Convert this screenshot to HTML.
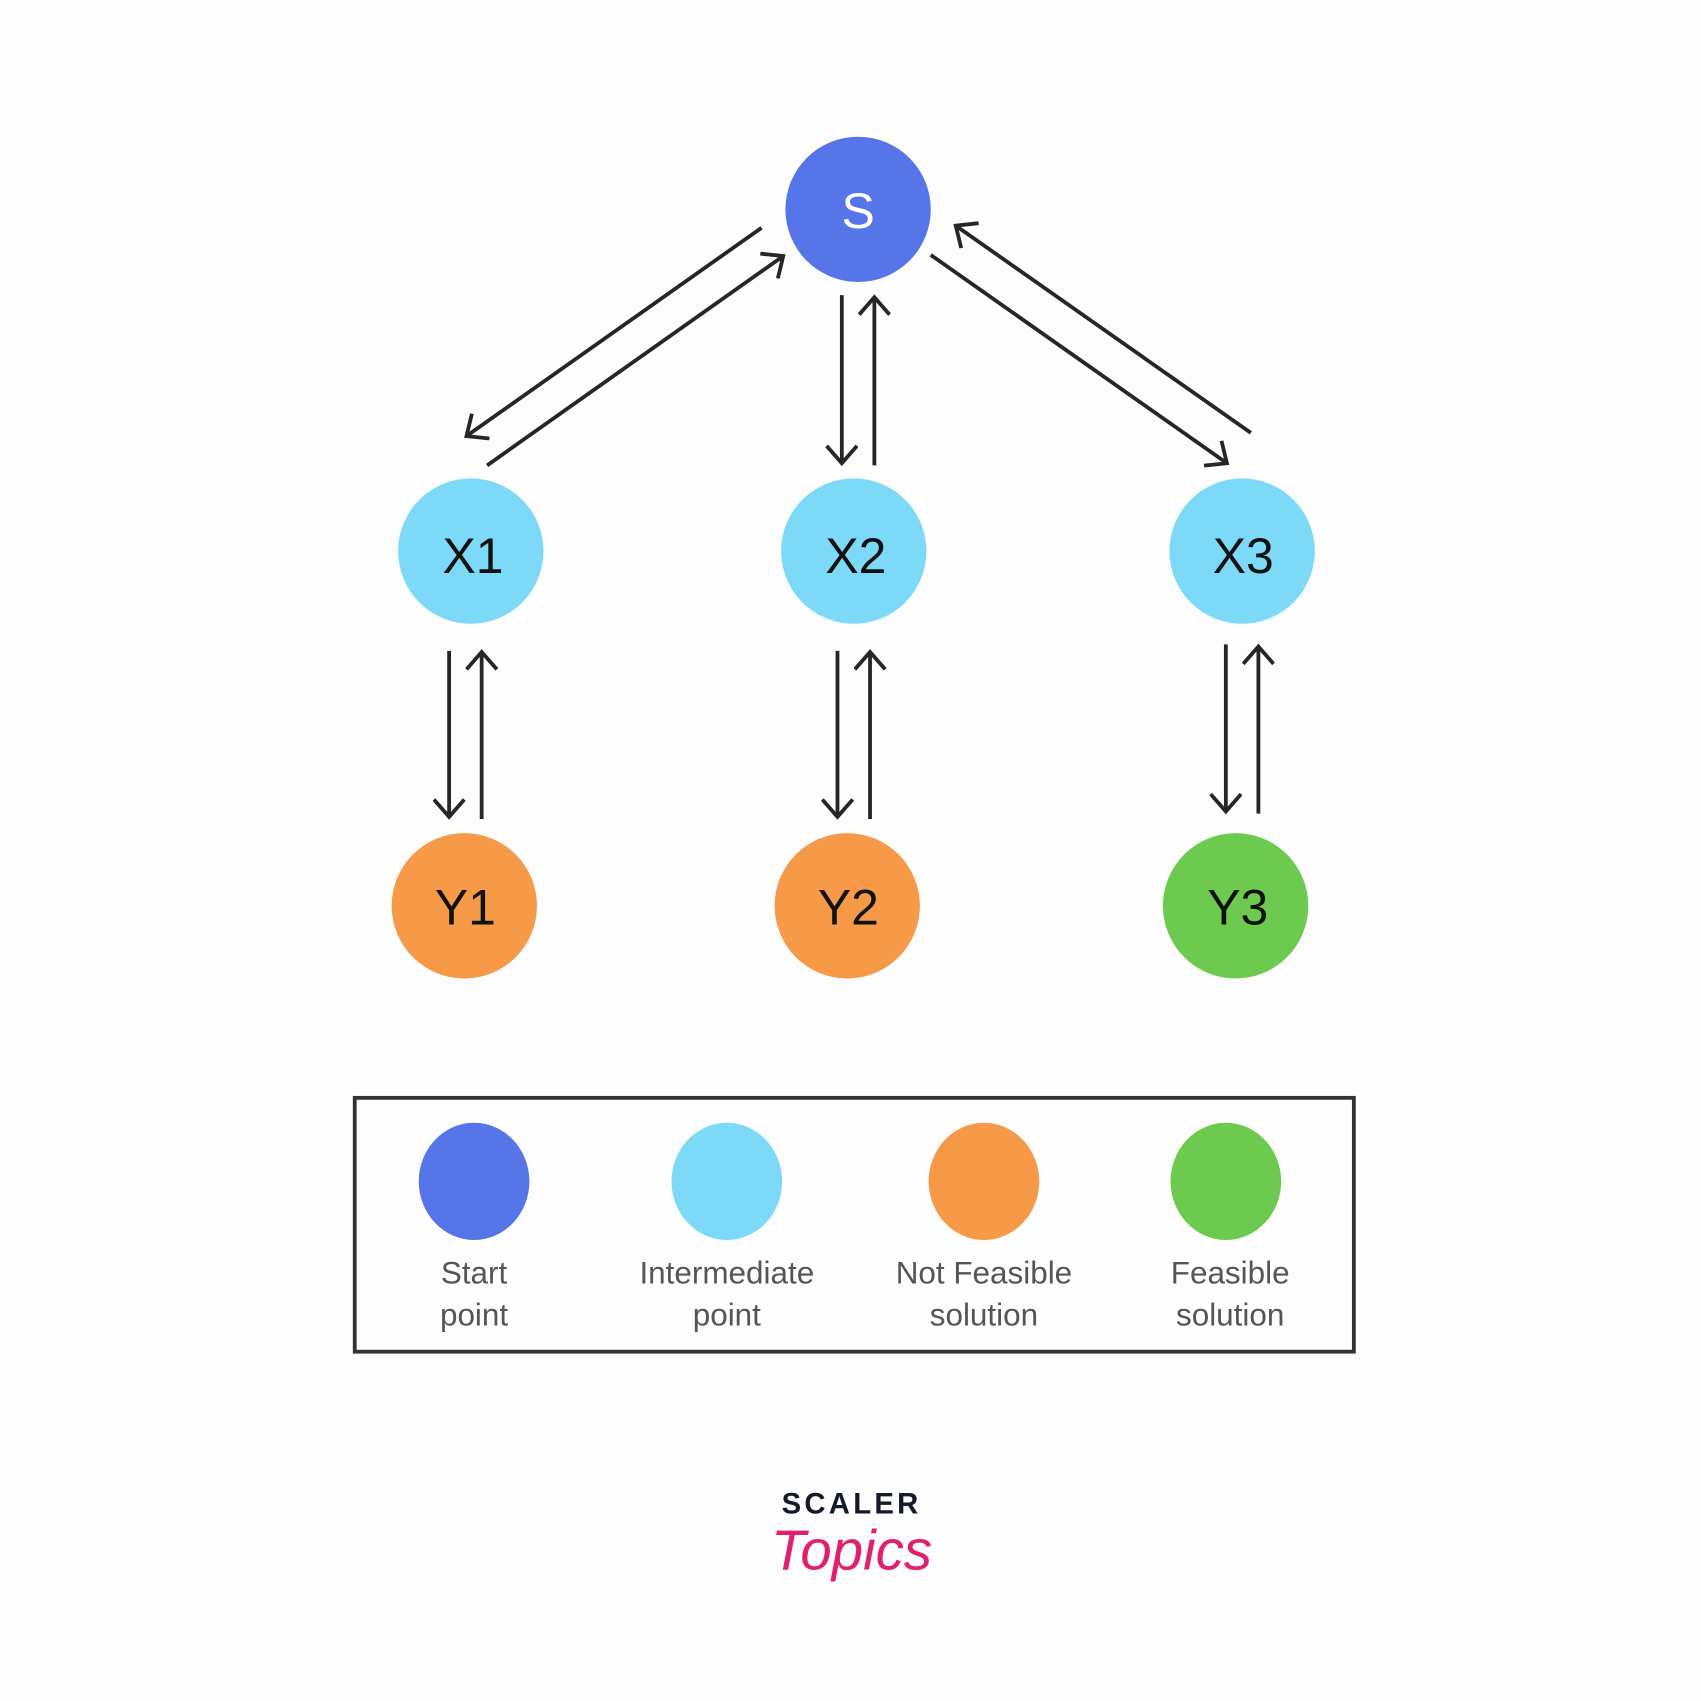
<!DOCTYPE html>
<html><head><meta charset="utf-8"><style>
html,body{margin:0;padding:0;background:#fdfdfd;}
svg{display:block;}
text{font-family:"Liberation Sans",sans-serif;}
</style></head><body>
<svg width="1701" height="1701" viewBox="0 0 1568 1568" xmlns="http://www.w3.org/2000/svg">
<rect width="1568" height="1568" fill="#fdfdfd"/>
<defs>
<marker id="a" viewBox="0 0 24 30" refX="20" refY="15" markerWidth="24" markerHeight="30" markerUnits="userSpaceOnUse" orient="auto">
<path d="M4 1 L20 15 L4 29" fill="none" stroke="#262626" stroke-width="3.5"/>
</marker>
</defs>
<g stroke="#262626" stroke-width="3.5" fill="none" marker-end="url(#a)">
<line x1="702" y1="210" x2="430" y2="402"/>
<line x1="449" y1="429" x2="722" y2="236"/>
<line x1="776" y1="272" x2="776" y2="427"/>
<line x1="806" y1="429" x2="806" y2="274"/>
<line x1="858" y1="235" x2="1131" y2="427"/>
<line x1="1153" y1="399" x2="881" y2="208"/>
<line x1="414" y1="600" x2="414" y2="753"/>
<line x1="444" y1="755" x2="444" y2="601"/>
<line x1="772" y1="600" x2="772" y2="753"/>
<line x1="802" y1="755" x2="802" y2="601"/>
<line x1="1130" y1="594" x2="1130" y2="748"/>
<line x1="1160" y1="750" x2="1160" y2="596"/>
</g>
<circle cx="791" cy="193" r="67" fill="#5675E8"/>
<circle cx="434" cy="508" r="67" fill="#7DD9F8"/>
<circle cx="787" cy="508" r="67" fill="#7DD9F8"/>
<circle cx="1145" cy="508" r="67" fill="#7DD9F8"/>
<circle cx="428" cy="835" r="67" fill="#F69A48"/>
<circle cx="781" cy="835" r="67" fill="#F69A48"/>
<circle cx="1139" cy="835" r="67" fill="#6CCB4E"/>
<g font-size="46" text-anchor="middle" fill="#111">
<text x="791" y="210" fill="#fff">S</text>
<text x="436" y="528">X1</text>
<text x="789" y="528">X2</text>
<text x="1146" y="528">X3</text>
<text x="429" y="852">Y1</text>
<text x="782" y="852">Y2</text>
<text x="1141" y="852">Y3</text>
</g>
<rect x="327" y="1012" width="921" height="234" fill="none" stroke="#333" stroke-width="3.5"/>
<ellipse cx="437" cy="1089" rx="51" ry="54" fill="#5675E8"/>
<ellipse cx="670" cy="1089" rx="51" ry="54" fill="#7DD9F8"/>
<ellipse cx="907" cy="1089" rx="51" ry="54" fill="#F69A48"/>
<ellipse cx="1130" cy="1089" rx="51" ry="54" fill="#6CCB4E"/>
<g font-size="29" text-anchor="middle" fill="#555">
<text x="437" y="1183">Start</text><text x="437" y="1222">point</text>
<text x="670" y="1183">Intermediate</text><text x="670" y="1222">point</text>
<text x="907" y="1183">Not Feasible</text><text x="907" y="1222">solution</text>
<text x="1134" y="1183">Feasible</text><text x="1134" y="1222">solution</text>
</g>
<text x="785" y="1395" font-size="27" font-weight="bold" text-anchor="middle" fill="#14192b" letter-spacing="3">SCALER</text>
<text x="785" y="1447" font-size="52" font-style="italic" font-family="Liberation Serif, serif" text-anchor="middle" fill="#E0206F">Topics</text>
</svg>
</body></html>
